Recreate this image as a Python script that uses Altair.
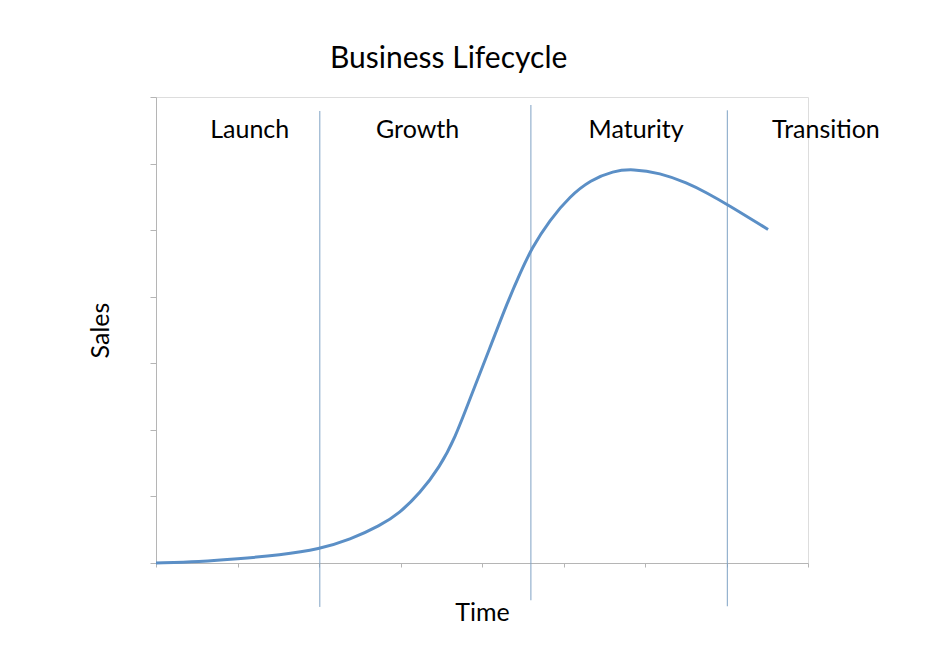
import altair as alt
import pandas as pd

# Curve (Time vs Sales)
curve_time = [0.00, 0.54, 0.99, 1.52, 2.01, 2.38, 2.75, 2.99, 3.24, 3.48, 3.67, 3.85, 4.10,
              4.31, 4.47, 4.61, 4.83, 5.08, 5.33, 5.61, 5.85, 6.18, 6.52, 6.76, 7.02, 7.51]
curve_sales = [0.00, 0.02, 0.06, 0.12, 0.21, 0.35, 0.56, 0.75, 1.05, 1.44, 1.88, 2.46, 3.24,
               3.91, 4.36, 4.73, 5.15, 5.51, 5.75, 5.89, 5.92, 5.86, 5.71, 5.56, 5.38, 5.01]

# Phase dividers
divider_x = [2.01, 4.60, 7.01]
divider_top = [6.79, 6.88, 6.80]
divider_bottom = [-0.66, -0.56, -0.65]

# Phase labels
phase_names = ["Launch", "Growth", "Maturity", "Transition"]
phase_x = [1.15, 3.21, 5.89, 8.22]
phase_y = [6.38, 6.38, 6.38, 6.38]

FONT = "Lato"
CURVE = "#5b8fc6"
RULE = "#7fa2c4"
AXIS = "#b5b5b5"

curve_df = pd.DataFrame({"t": curve_time, "s": curve_sales})
div_df = pd.DataFrame({"x": divider_x, "y": divider_top, "y2": divider_bottom})
lab_df = pd.DataFrame({"name": phase_names, "x": phase_x, "y": phase_y})

xs = alt.Scale(domain=[0, 8], nice=False, zero=True)
ys = alt.Scale(domain=[0, 7], nice=False, zero=True)

line = alt.Chart(curve_df).mark_line(
    interpolate="basis", color=CURVE, strokeWidth=3, clip=False
).encode(
    x=alt.X("t:Q", scale=xs, axis=alt.Axis(
        title="Time", values=list(range(9)), labels=False, grid=False,
        domainColor=AXIS, tickColor=AXIS, tickSize=4, domainWidth=1,
        titleFont=FONT, titleFontSize=25, titleFontWeight="normal", titleColor="#000",
        titleBaseline="alphabetic", titleY=57, titleAnchor="middle")),
    y=alt.Y("s:Q", scale=ys, axis=alt.Axis(
        title="Sales", values=list(range(8)), labels=False, grid=False,
        domainColor=AXIS, tickColor=AXIS, tickSize=6, domainWidth=1,
        titleFont=FONT, titleFontSize=25, titleFontWeight="normal", titleColor="#000",
        titleAngle=-90, titleBaseline="middle", titleAlign="center",
        titleX=-56, titleY=233)),
)

rules = alt.Chart(div_df).mark_rule(color=RULE, strokeWidth=1, clip=False).encode(
    x=alt.X("x:Q", scale=xs), y=alt.Y("y:Q", scale=ys), y2="y2:Q"
)

labels = alt.Chart(lab_df).mark_text(
    font=FONT, fontSize=25, color="#000", align="center", baseline="alphabetic", clip=False
).encode(
    x=alt.X("x:Q", scale=xs), y=alt.Y("y:Q", scale=ys), text="name:N"
)

chart = alt.layer(rules, line, labels).properties(
    width=652, height=466,
    title=alt.Title("Business Lifecycle", font=FONT, fontSize=30, fontWeight="normal",
                    color="#000", anchor="start", frame="group", dx=174, dy=30,
                    offset=29, baseline="alphabetic"),
    autosize=alt.AutoSizeParams(type="none"),
    padding={"left": 148, "top": 89, "right": 118, "bottom": 79},
).configure_view(stroke=None).configure(background="white")

chart.save("out.html", embed_options={"renderer": "svg", "actions": False})
